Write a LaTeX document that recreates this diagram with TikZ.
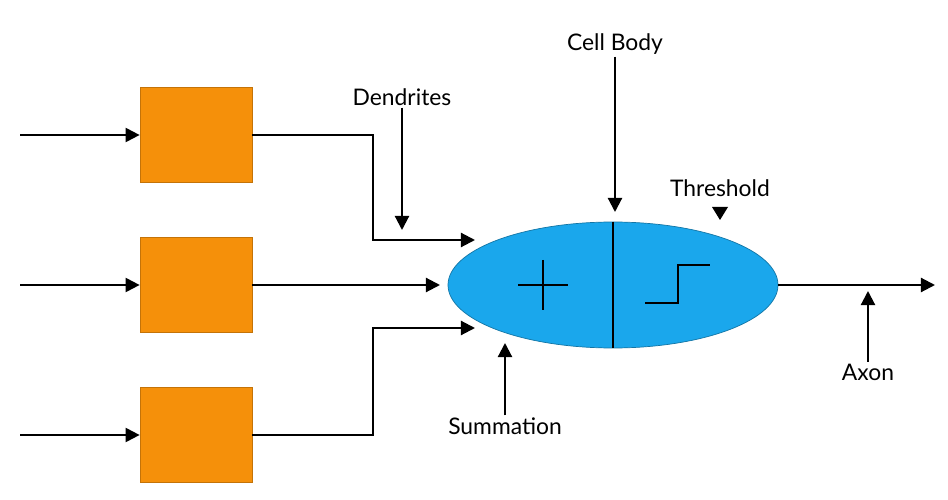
\documentclass[tikz,border=0pt]{standalone}
\usepackage{fontspec}
\setmainfont{Lato}
\usetikzlibrary{arrows.meta,shapes.geometric}
\definecolor{boxor}{HTML}{F5900A}
\definecolor{cellb}{HTML}{1AA7EC}
\begin{document}
\begin{tikzpicture}[x=0.02cm,y=-0.02cm,
  box/.style={draw=boxor!80!black,fill=boxor,minimum width=112*0.02cm,minimum height=95*0.02cm,inner sep=0pt},
  lbl/.style={font=\fontsize{13}{15}\selectfont},
  arr/.style={line width=1.2pt,-{Triangle[length=8pt,width=8pt]}},
  ln/.style={line width=1.2pt}]
\useasboundingbox (0,0) rectangle (948,500);
\node[box] (b1) at (196,135) {};
\node[box] (b2) at (196,285) {};
\node[box] (b3) at (196,435) {};
\coordinate (i1) at (20,135);
\coordinate (i2) at (20,285);
\coordinate (i3) at (20,435);
\draw[arr] (i1) -- (b1.west);
\draw[arr] (i2) -- (b2.west);
\draw[arr] (i3) -- (b3.west);
\node[ellipse,draw=cellb!70!black,fill=cellb,minimum width=330*0.02cm,minimum height=126*0.02cm,inner sep=0pt] (cell) at (613,285) {};
\draw[line width=0.8pt] (cell.north) -- (cell.south);
\draw[line width=0.8pt] (518,285) -- (568,285) (543,260) -- (543,310);
\draw[line width=0.8pt] (645,303) -- (678,303) -- (678,265) -- (710,265);
\coordinate (e1) at (475,240);
\coordinate (e3) at (475,328);
\coordinate (e2) at (440,285);
\draw[arr] (b1.east) -- (373,135) -- (373,240) -- (e1);
\draw[arr] (b2.east) -- (e2);
\draw[arr] (b3.east) -- (373,435) -- (373,328) -- (e3);
\coordinate (out) at (935,285);
\draw[arr] (cell.east) -- (out);
\node[lbl] (dend) at (402,97) {Dendrites};
\coordinate (dt) at (402,230);
\draw[arr] (dend.south)++(0,-4) -- (dt);
\node[lbl] (cb) at (615,44) {Cell Body};
\coordinate (cbt) at (615,212);
\draw[arr] (cb.south)++(0,-4) -- (cbt);
\node[lbl] (thr) at (720,188) {Threshold};
\fill (712,207) -- (728,207) -- (720,220) -- cycle;
\node[lbl] (sum) at (505,426) {Summation};
\coordinate (st) at (505,343);
\draw[arr] (sum.north)++(0,4) -- (st);
\node[lbl] (ax) at (868,372) {Axon};
\coordinate (at) at (868,291);
\draw[arr] (ax.north)++(0,4) -- (at);
\end{tikzpicture}
\end{document}
